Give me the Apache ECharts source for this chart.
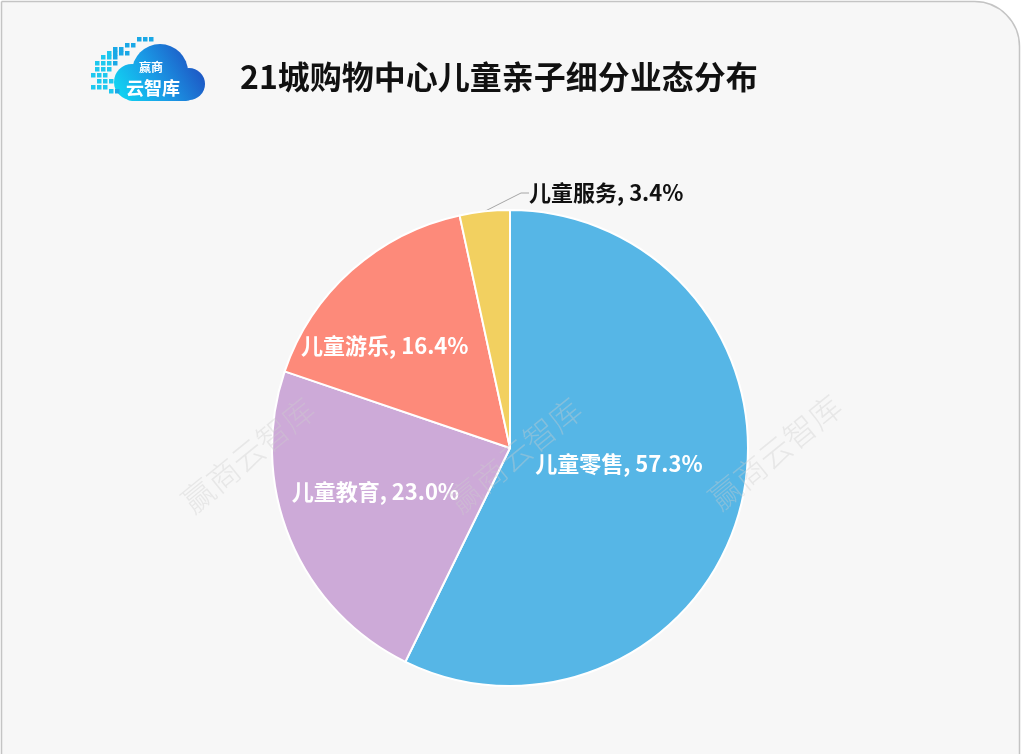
<!DOCTYPE html>
<html><head><meta charset="utf-8">
<script src="https://cdn.jsdelivr.net/npm/echarts@6/dist/echarts.min.js"></script>
<style>html,body{margin:0;padding:0;background:#fff;}#c{width:1022px;height:754px;}</style>
</head><body><div id="c"></div>
<script>
const categories = ['儿童零售', '儿童教育', '儿童游乐', '儿童服务'];
const values = [57.3, 23.0, 16.4, 3.4];
const colors = ['#56b6e6', '#cdaad8', '#fd8a7a', '#f2d060'];
const titleText = '21城购物中心儿童亲子细分业态分布';

const chart = echarts.init(document.getElementById('c'));
const font = '"Noto Sans CJK SC", "Noto Sans", sans-serif';

const grad = {type:'linear', x:112, y:100, x2:205, y2:45, global:true, colorStops:[{offset:0,color:'#0fe0f4'},{offset:0.45,color:'#1a9ae6'},{offset:1,color:'#1f3fb8'}]};
const squares = [];
const sq = [[137,37],[143,37],[149,37],[131,43],[125,43],[119,47],[113,47],[107,51],[113,51],[119,51],[125,51],[101,55],[107,55],[113,55],[95,61],[101,61],[107,61],[113,61],[95,67],[101,67],[107,67],[91,73],[97,73],[103,73],[97,79],[103,79],[109,79],[91,85],[97,85],[103,85],[109,89],[115,89]];
sq.forEach(p => squares.push({type:'rect', shape:{x:p[0], y:p[1], width:4.5, height:4.5}, style:{fill: p[0] < 110 ? '#1ec8ef' : '#1aa8e6'}, silent:true}));

const cloud = [
  {type:'circle', shape:{cx:160, cy:72, r:28}, style:{fill:grad}, silent:true},
  {type:'circle', shape:{cx:189, cy:84, r:16}, style:{fill:grad}, silent:true},
  {type:'circle', shape:{cx:132, cy:82, r:18}, style:{fill:grad}, silent:true},
  {type:'rect', shape:{x:124, y:80, width:70, height:21, r:[0,0,8,8]}, style:{fill:grad}, silent:true}
];

const wm = [[248,455],[515,455],[775,452]].map(p => ({
  type:'text', x:p[0], y:p[1], rotation: Math.PI/4.6, silent:true, z:100,
  style:{text:'赢商云智库', font:'300 32px ' + font, fill:'rgba(205,205,205,0.38)', align:'center', verticalAlign:'middle'}
}));

chart.setOption({
  backgroundColor: '#ffffff',
  graphic: [
    {type:'rect', shape:{x:1.5, y:1.5, width:1018, height:760, r:[0,45,0,0]}, style:{fill:'#f7f7f7', stroke:'#c4c4c4', lineWidth:1.5}, silent:true, z:-10},
    ...cloud,
    ...squares,
    {type:'text', x:151, y:67, silent:true, style:{text:'赢商', font:'bold 12px ' + font, fill:'#ffffff', align:'center', verticalAlign:'middle'}},
    {type:'text', x:153, y:88, silent:true, style:{text:'云智库', font:'bold 18px ' + font, fill:'#ffffff', align:'center', verticalAlign:'middle'}},
    {type:'text', x:240, y:77, silent:true, style:{text:titleText, font:'bold 32px ' + font, fill:'#111111', verticalAlign:'middle'}},
    ...wm
  ],
  series: [{
    type: 'pie',
    center: [510, 448],
    radius: [0, 238],
    startAngle: 90,
    clockwise: true,
    animation: false,
    itemStyle: {borderColor:'#ffffff', borderWidth:2},
    label: {
      show: true, position: 'inside',
      formatter: p => p.name + ', ' + p.value.toFixed(1) + '%',
      color: '#ffffff', fontFamily: font, fontWeight: 'bold', fontSize: 22
    },
    labelLine: {show:false},
    labelLayout: function (params) {
      const off = [[-10,-12],[-22,-3],[-44,-11],[0,0]];
      if (params.dataIndex === 3) {
        return {x: 529, y: 193, align: 'left', verticalAlign: 'middle'};
      }
      return {dx: off[params.dataIndex][0], dy: off[params.dataIndex][1]};
    },
    data: categories.map((c, i) => {
      const d = {name: c, value: values[i], itemStyle: {color: colors[i]}};
      if (i === 3) {
        d.label = {position: 'outside', color: '#111111'};
        d.labelLine = {show: true, length: 10, length2: 8, lineStyle: {color: '#a6a6a6', width: 1}};
      }
      return d;
    })
  }]
});
</script></body></html>
